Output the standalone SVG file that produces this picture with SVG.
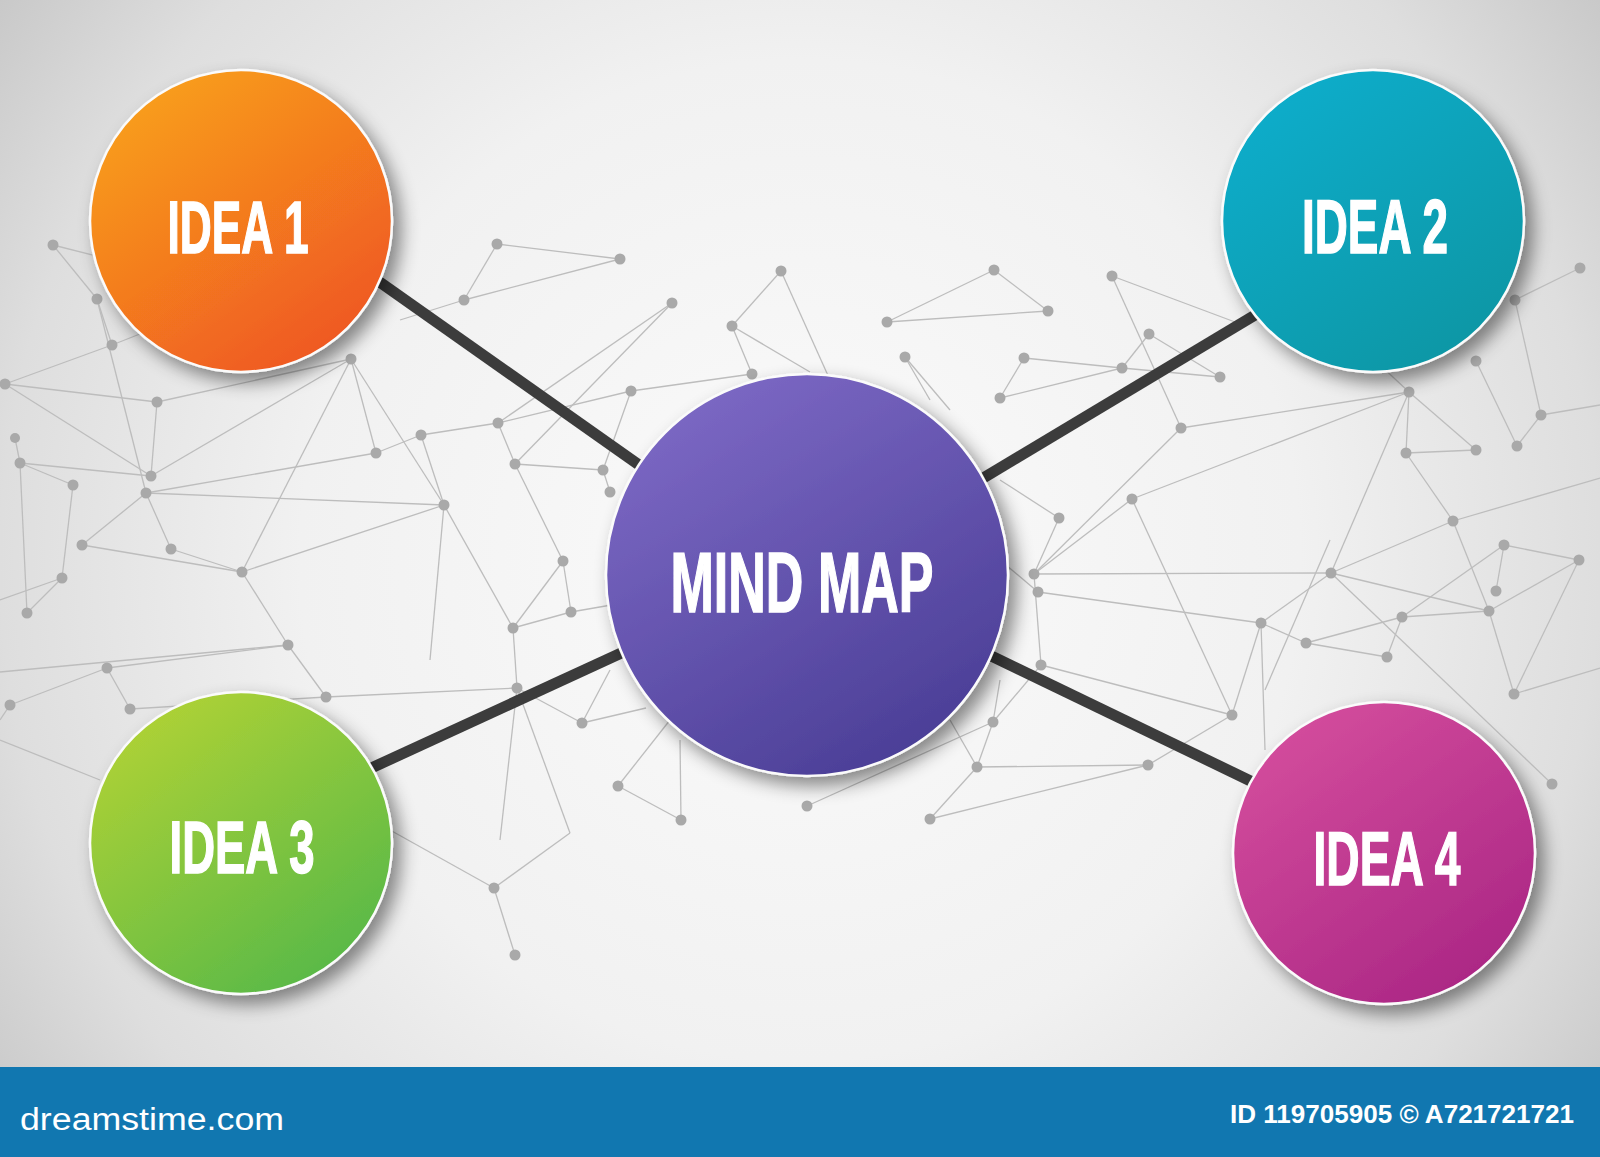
<svg xmlns="http://www.w3.org/2000/svg" width="1600" height="1157" viewBox="0 0 1600 1157">
<defs>
<radialGradient id="bg" gradientUnits="userSpaceOnUse" cx="800" cy="560" r="1000">
<stop offset="0" stop-color="#fbfbfb"/>
<stop offset="0.5" stop-color="#f1f1f1"/>
<stop offset="0.8" stop-color="#dedede"/>
<stop offset="1" stop-color="#c6c6c6"/>
</radialGradient>
<linearGradient id="gOrange" x1="0.15" y1="0" x2="0.85" y2="1">
<stop offset="0" stop-color="#f9a31c"/>
<stop offset="1" stop-color="#ee5222"/>
</linearGradient>
<linearGradient id="gTeal" x1="0.15" y1="0" x2="0.85" y2="1">
<stop offset="0" stop-color="#06aecd"/>
<stop offset="1" stop-color="#1095a2"/>
</linearGradient>
<linearGradient id="gGreen" x1="0.15" y1="0" x2="0.85" y2="1">
<stop offset="0" stop-color="#b4d334"/>
<stop offset="1" stop-color="#52b749"/>
</linearGradient>
<linearGradient id="gMagenta" x1="0.15" y1="0" x2="0.85" y2="1">
<stop offset="0" stop-color="#d64f9e"/>
<stop offset="1" stop-color="#a82483"/>
</linearGradient>
<linearGradient id="gPurple" x1="0.2" y1="0" x2="0.8" y2="1">
<stop offset="0" stop-color="#7e6ac6"/>
<stop offset="1" stop-color="#483c94"/>
</linearGradient>
<filter id="shadow" x="-30%" y="-30%" width="170%" height="170%">
<feDropShadow dx="8" dy="9" stdDeviation="9" flood-color="#000" flood-opacity="0.45"/>
</filter>
<style>
.mesh line{stroke:#bdbdbd;stroke-width:1.3}
.mesh circle{fill:#a9a9a9}
.conn line{stroke:#3c3c3c;stroke-width:11;stroke-linecap:butt}
.node circle{stroke:#fbfbfb;stroke-width:2.5;filter:url(#shadow)}
.label{font-family:"Liberation Sans",Arial,sans-serif;font-weight:bold;fill:#ffffff;stroke:#ffffff;stroke-width:1.6;text-anchor:middle}
.banner-text{font-family:"Liberation Sans",Arial,sans-serif;fill:#ffffff}
</style>
</defs>

<rect id="background" x="0" y="0" width="1600" height="1157" fill="url(#bg)"/>

<g id="mesh" class="mesh">
<line x1="53" y1="245" x2="97" y2="299"/>
<line x1="53" y1="245" x2="120" y2="262"/>
<line x1="97" y1="299" x2="112" y2="345"/>
<line x1="97" y1="299" x2="146" y2="493"/>
<line x1="5" y1="384" x2="157" y2="402"/>
<line x1="5" y1="384" x2="112" y2="345"/>
<line x1="5" y1="384" x2="151" y2="476"/>
<line x1="112" y1="345" x2="150" y2="330"/>
<line x1="157" y1="402" x2="351" y2="359"/>
<line x1="157" y1="402" x2="151" y2="476"/>
<line x1="351" y1="359" x2="242" y2="572"/>
<line x1="351" y1="359" x2="444" y2="505"/>
<line x1="351" y1="359" x2="376" y2="453"/>
<line x1="151" y1="476" x2="351" y2="359"/>
<line x1="376" y1="453" x2="421" y2="435"/>
<line x1="376" y1="453" x2="146" y2="493"/>
<line x1="421" y1="435" x2="498" y2="423"/>
<line x1="421" y1="435" x2="444" y2="505"/>
<line x1="146" y1="493" x2="444" y2="505"/>
<line x1="20" y1="463" x2="151" y2="476"/>
<line x1="20" y1="463" x2="27" y2="613"/>
<line x1="20" y1="463" x2="15" y2="438"/>
<line x1="73" y1="485" x2="62" y2="578"/>
<line x1="73" y1="485" x2="20" y2="463"/>
<line x1="82" y1="545" x2="242" y2="572"/>
<line x1="82" y1="545" x2="146" y2="493"/>
<line x1="171" y1="549" x2="146" y2="493"/>
<line x1="171" y1="549" x2="242" y2="572"/>
<line x1="242" y1="572" x2="288" y2="645"/>
<line x1="242" y1="572" x2="444" y2="505"/>
<line x1="27" y1="613" x2="62" y2="578"/>
<line x1="62" y1="578" x2="0" y2="600"/>
<line x1="444" y1="505" x2="430" y2="660"/>
<line x1="444" y1="505" x2="513" y2="628"/>
<line x1="497" y1="244" x2="464" y2="300"/>
<line x1="497" y1="244" x2="620" y2="259"/>
<line x1="620" y1="259" x2="464" y2="300"/>
<line x1="464" y1="300" x2="400" y2="320"/>
<line x1="672" y1="303" x2="498" y2="423"/>
<line x1="672" y1="303" x2="515" y2="464"/>
<line x1="498" y1="423" x2="515" y2="464"/>
<line x1="498" y1="423" x2="631" y2="391"/>
<line x1="631" y1="391" x2="752" y2="374"/>
<line x1="631" y1="391" x2="603" y2="470"/>
<line x1="515" y1="464" x2="563" y2="561"/>
<line x1="515" y1="464" x2="603" y2="470"/>
<line x1="603" y1="470" x2="610" y2="492"/>
<line x1="563" y1="561" x2="571" y2="612"/>
<line x1="563" y1="561" x2="513" y2="628"/>
<line x1="513" y1="628" x2="571" y2="612"/>
<line x1="513" y1="628" x2="517" y2="688"/>
<line x1="571" y1="612" x2="640" y2="600"/>
<line x1="288" y1="645" x2="0" y2="672"/>
<line x1="288" y1="645" x2="326" y2="697"/>
<line x1="288" y1="645" x2="107" y2="668"/>
<line x1="107" y1="668" x2="130" y2="709"/>
<line x1="130" y1="709" x2="326" y2="697"/>
<line x1="10" y1="705" x2="0" y2="720"/>
<line x1="10" y1="705" x2="107" y2="668"/>
<line x1="0" y1="740" x2="100" y2="780"/>
<line x1="326" y1="697" x2="517" y2="688"/>
<line x1="517" y1="688" x2="582" y2="723"/>
<line x1="517" y1="688" x2="500" y2="840"/>
<line x1="517" y1="688" x2="570" y2="833"/>
<line x1="582" y1="723" x2="646" y2="708"/>
<line x1="582" y1="723" x2="610" y2="670"/>
<line x1="618" y1="786" x2="670" y2="720"/>
<line x1="618" y1="786" x2="681" y2="820"/>
<line x1="681" y1="820" x2="680" y2="740"/>
<line x1="494" y1="888" x2="515" y2="955"/>
<line x1="494" y1="888" x2="390" y2="830"/>
<line x1="494" y1="888" x2="570" y2="833"/>
<line x1="781" y1="271" x2="732" y2="326"/>
<line x1="781" y1="271" x2="830" y2="380"/>
<line x1="732" y1="326" x2="752" y2="374"/>
<line x1="732" y1="326" x2="810" y2="372"/>
<line x1="887" y1="322" x2="994" y2="270"/>
<line x1="994" y1="270" x2="1048" y2="311"/>
<line x1="887" y1="322" x2="1048" y2="311"/>
<line x1="905" y1="357" x2="950" y2="410"/>
<line x1="905" y1="357" x2="930" y2="400"/>
<line x1="1024" y1="358" x2="1122" y2="368"/>
<line x1="1122" y1="368" x2="1220" y2="377"/>
<line x1="1024" y1="358" x2="1000" y2="398"/>
<line x1="1000" y1="398" x2="1122" y2="368"/>
<line x1="1112" y1="276" x2="1235" y2="322"/>
<line x1="1112" y1="276" x2="1181" y2="428"/>
<line x1="1149" y1="334" x2="1122" y2="368"/>
<line x1="1149" y1="334" x2="1220" y2="377"/>
<line x1="1181" y1="428" x2="1409" y2="392"/>
<line x1="1181" y1="428" x2="1034" y2="574"/>
<line x1="1409" y1="392" x2="1132" y2="499"/>
<line x1="1409" y1="392" x2="1406" y2="453"/>
<line x1="1409" y1="392" x2="1476" y2="450"/>
<line x1="1409" y1="392" x2="1331" y2="573"/>
<line x1="1409" y1="392" x2="1380" y2="365"/>
<line x1="1476" y1="361" x2="1517" y2="446"/>
<line x1="1515" y1="300" x2="1580" y2="268"/>
<line x1="1515" y1="300" x2="1541" y2="415"/>
<line x1="1541" y1="415" x2="1517" y2="446"/>
<line x1="1541" y1="415" x2="1600" y2="405"/>
<line x1="1406" y1="453" x2="1453" y2="521"/>
<line x1="1406" y1="453" x2="1476" y2="450"/>
<line x1="1132" y1="499" x2="1034" y2="574"/>
<line x1="1132" y1="499" x2="1232" y2="715"/>
<line x1="1059" y1="518" x2="1034" y2="574"/>
<line x1="1059" y1="518" x2="1000" y2="480"/>
<line x1="1034" y1="574" x2="1331" y2="573"/>
<line x1="1038" y1="592" x2="1261" y2="623"/>
<line x1="1034" y1="574" x2="1041" y2="665"/>
<line x1="1038" y1="592" x2="1000" y2="560"/>
<line x1="1453" y1="521" x2="1600" y2="478"/>
<line x1="1453" y1="521" x2="1489" y2="611"/>
<line x1="1453" y1="521" x2="1331" y2="573"/>
<line x1="1331" y1="573" x2="1489" y2="611"/>
<line x1="1331" y1="573" x2="1552" y2="784"/>
<line x1="1331" y1="573" x2="1261" y2="623"/>
<line x1="1504" y1="545" x2="1496" y2="591"/>
<line x1="1504" y1="545" x2="1579" y2="560"/>
<line x1="1504" y1="545" x2="1402" y2="617"/>
<line x1="1489" y1="611" x2="1579" y2="560"/>
<line x1="1489" y1="611" x2="1514" y2="694"/>
<line x1="1489" y1="611" x2="1402" y2="617"/>
<line x1="1579" y1="560" x2="1514" y2="694"/>
<line x1="1514" y1="694" x2="1600" y2="668"/>
<line x1="1402" y1="617" x2="1387" y2="657"/>
<line x1="1261" y1="623" x2="1306" y2="643"/>
<line x1="1261" y1="623" x2="1265" y2="750"/>
<line x1="1306" y1="643" x2="1402" y2="617"/>
<line x1="1306" y1="643" x2="1387" y2="657"/>
<line x1="1261" y1="623" x2="1232" y2="715"/>
<line x1="1041" y1="665" x2="1232" y2="715"/>
<line x1="1232" y1="715" x2="1148" y2="765"/>
<line x1="1330" y1="540" x2="1265" y2="690"/>
<line x1="993" y1="722" x2="977" y2="767"/>
<line x1="977" y1="767" x2="1148" y2="765"/>
<line x1="977" y1="767" x2="930" y2="819"/>
<line x1="930" y1="819" x2="1148" y2="765"/>
<line x1="807" y1="806" x2="993" y2="722"/>
<line x1="993" y1="722" x2="1000" y2="680"/>
<line x1="977" y1="767" x2="950" y2="720"/>
<line x1="1041" y1="665" x2="993" y2="722"/>
<circle cx="53" cy="245" r="5.5"/><circle cx="97" cy="299" r="5.5"/><circle cx="112" cy="345" r="5.5"/>
<circle cx="5" cy="384" r="5.5"/><circle cx="157" cy="402" r="5.5"/><circle cx="351" cy="359" r="5.5"/>
<circle cx="421" cy="435" r="5.5"/><circle cx="376" cy="453" r="5.5"/><circle cx="151" cy="476" r="5.5"/>
<circle cx="146" cy="493" r="5.5"/><circle cx="20" cy="463" r="5.5"/><circle cx="15" cy="438" r="5"/>
<circle cx="73" cy="485" r="5.5"/><circle cx="82" cy="545" r="5.5"/><circle cx="171" cy="549" r="5.5"/>
<circle cx="242" cy="572" r="5.5"/><circle cx="62" cy="578" r="5.5"/><circle cx="27" cy="613" r="5.5"/>
<circle cx="444" cy="505" r="5.5"/><circle cx="498" cy="423" r="5.5"/><circle cx="464" cy="300" r="5.5"/>
<circle cx="497" cy="244" r="5.5"/><circle cx="620" cy="259" r="5.5"/><circle cx="672" cy="303" r="5.5"/>
<circle cx="631" cy="391" r="5.5"/><circle cx="515" cy="464" r="5.5"/><circle cx="563" cy="561" r="5.5"/>
<circle cx="513" cy="628" r="5.5"/><circle cx="571" cy="612" r="5.5"/><circle cx="288" cy="645" r="5.5"/>
<circle cx="107" cy="668" r="5.5"/><circle cx="130" cy="709" r="5.5"/><circle cx="326" cy="697" r="5.5"/>
<circle cx="10" cy="705" r="5.5"/><circle cx="517" cy="688" r="5.5"/><circle cx="582" cy="723" r="5.5"/>
<circle cx="618" cy="786" r="5.5"/><circle cx="681" cy="820" r="5.5"/><circle cx="494" cy="888" r="5.5"/>
<circle cx="515" cy="955" r="5.5"/><circle cx="603" cy="470" r="5.5"/><circle cx="610" cy="492" r="5.5"/>
<circle cx="781" cy="271" r="5.5"/><circle cx="732" cy="326" r="5.5"/><circle cx="752" cy="374" r="5.5"/>
<circle cx="887" cy="322" r="5.5"/><circle cx="994" cy="270" r="5.5"/><circle cx="1048" cy="311" r="5.5"/>
<circle cx="905" cy="357" r="5.5"/><circle cx="1024" cy="358" r="5.5"/><circle cx="1000" cy="398" r="5.5"/>
<circle cx="1112" cy="276" r="5.5"/><circle cx="1149" cy="334" r="5.5"/><circle cx="1122" cy="368" r="5.5"/>
<circle cx="1220" cy="377" r="5.5"/><circle cx="1181" cy="428" r="5.5"/><circle cx="1409" cy="392" r="5.5"/>
<circle cx="1476" cy="361" r="5.5"/><circle cx="1515" cy="300" r="5.5"/><circle cx="1580" cy="268" r="5.5"/>
<circle cx="1541" cy="415" r="5.5"/><circle cx="1517" cy="446" r="5.5"/><circle cx="1406" cy="453" r="5.5"/>
<circle cx="1476" cy="450" r="5.5"/><circle cx="1132" cy="499" r="5.5"/><circle cx="1059" cy="518" r="5.5"/>
<circle cx="1034" cy="574" r="5.5"/><circle cx="1038" cy="592" r="5.5"/><circle cx="1453" cy="521" r="5.5"/>
<circle cx="1331" cy="573" r="5.5"/><circle cx="1504" cy="545" r="5.5"/><circle cx="1579" cy="560" r="5.5"/>
<circle cx="1496" cy="591" r="5.5"/><circle cx="1489" cy="611" r="5.5"/><circle cx="1402" cy="617" r="5.5"/>
<circle cx="1261" cy="623" r="5.5"/><circle cx="1306" cy="643" r="5.5"/><circle cx="1387" cy="657" r="5.5"/>
<circle cx="1514" cy="694" r="5.5"/><circle cx="1552" cy="784" r="5.5"/><circle cx="1041" cy="665" r="5.5"/>
<circle cx="1232" cy="715" r="5.5"/><circle cx="993" cy="722" r="5.5"/><circle cx="977" cy="767" r="5.5"/>
<circle cx="1148" cy="765" r="5.5"/><circle cx="930" cy="819" r="5.5"/><circle cx="807" cy="806" r="5.5"/>
</g>

<g id="connectors" class="conn">
<line x1="330" y1="247" x2="700" y2="508"/>
<line x1="940" y1="504" x2="1290" y2="294"/>
<line x1="330" y1="787" x2="680" y2="626"/>
<line x1="950" y1="636" x2="1290" y2="800"/>
</g>

<g id="node-idea1" class="node">
<circle cx="241" cy="221" r="151" fill="url(#gOrange)"/>
<text class="label" x="238" y="253" font-size="75" textLength="141" lengthAdjust="spacingAndGlyphs">IDEA 1</text>
</g>
<g id="node-idea2" class="node">
<circle cx="1373" cy="221" r="151" fill="url(#gTeal)"/>
<text class="label" x="1375" y="253" font-size="76" textLength="146" lengthAdjust="spacingAndGlyphs">IDEA 2</text>
</g>
<g id="node-idea3" class="node">
<circle cx="241" cy="843" r="151" fill="url(#gGreen)"/>
<text class="label" x="242" y="873" font-size="75" textLength="145" lengthAdjust="spacingAndGlyphs">IDEA 3</text>
</g>
<g id="node-idea4" class="node">
<circle cx="1384" cy="853" r="151" fill="url(#gMagenta)"/>
<text class="label" x="1387" y="885" font-size="76" textLength="147" lengthAdjust="spacingAndGlyphs">IDEA 4</text>
</g>
<g id="node-mind" class="node">
<circle cx="807" cy="575" r="201" fill="url(#gPurple)"/>
<text class="label" x="802" y="612" font-size="86" textLength="263" lengthAdjust="spacingAndGlyphs">MIND MAP</text>
</g>

<g id="banner">
<rect x="0" y="1067" width="1600" height="90" fill="#1177b0"/>
<text class="banner-text" x="20" y="1130" font-size="31" textLength="264" lengthAdjust="spacingAndGlyphs">dreamstime.com</text>
<text class="banner-text" x="1230" y="1123" font-size="25" font-weight="bold" textLength="344" lengthAdjust="spacingAndGlyphs">ID 119705905 © A721721721</text>
</g>
</svg>
